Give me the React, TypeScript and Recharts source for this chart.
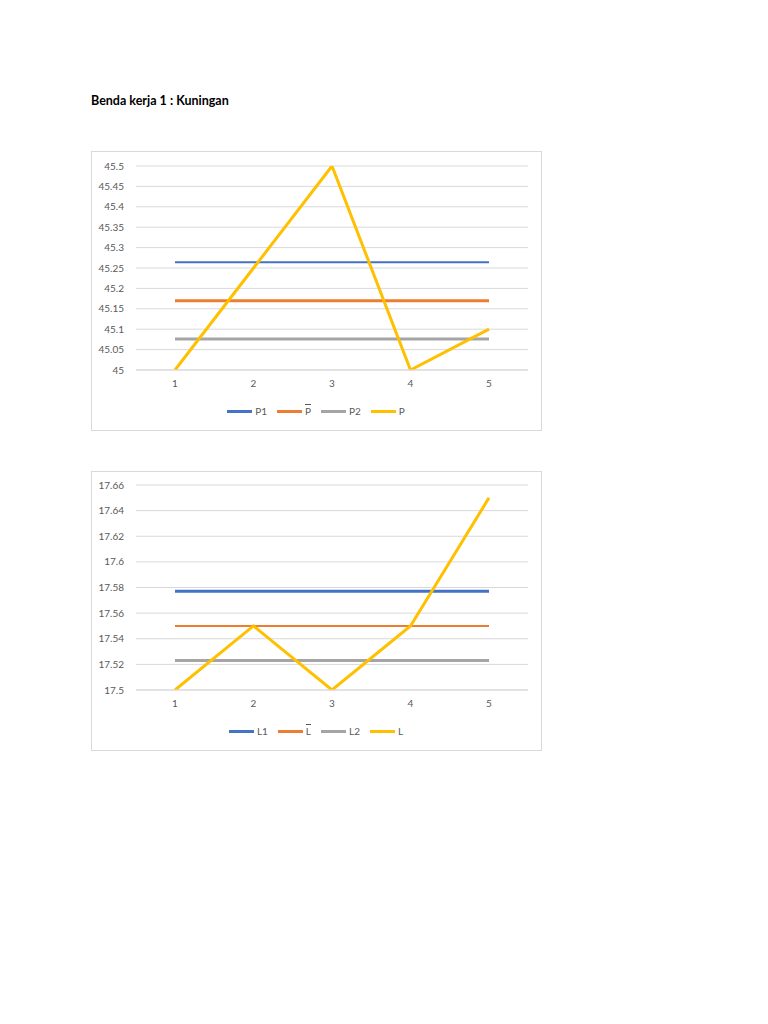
import React from 'react';
import { LineChart, Line, XAxis, YAxis, CartesianGrid, Legend } from 'recharts';

const categories = ['1', '2', '3', '4', '5'];

const pValues = [45, 45.25, 45.5, 45, 45.1];
const p1Values = [45.264, 45.264, 45.264, 45.264, 45.264];
const pBarValues = [45.17, 45.17, 45.17, 45.17, 45.17];
const p2Values = [45.076, 45.076, 45.076, 45.076, 45.076];
const pTicks = [45, 45.05, 45.1, 45.15, 45.2, 45.25, 45.3, 45.35, 45.4, 45.45, 45.5];

const lValues = [17.5, 17.55, 17.5, 17.55, 17.65];
const l1Values = [17.577, 17.577, 17.577, 17.577, 17.577];
const lBarValues = [17.55, 17.55, 17.55, 17.55, 17.55];
const l2Values = [17.523, 17.523, 17.523, 17.523, 17.523];
const lTicks = [17.5, 17.52, 17.54, 17.56, 17.58, 17.6, 17.62, 17.64, 17.66];

const BLUE = '#4472C4';
const ORANGE = '#ED7D31';
const GREY = '#A5A5A5';
const YELLOW = '#FFC000';
const FONT = 'Lato, "Noto Sans", sans-serif';

const pData = categories.map((c, i) => ({
  x: c,
  P1: p1Values[i],
  Pbar: pBarValues[i],
  P2: p2Values[i],
  P: pValues[i],
}));

const lData = categories.map((c, i) => ({
  x: c,
  L1: l1Values[i],
  Lbar: lBarValues[i],
  L2: l2Values[i],
  L: lValues[i],
}));

type Item = { key: string; label: string; bar?: boolean; color: string };

const makeLegend = (items: Item[]) => () => (
  <div
    style={{
      display: 'flex',
      justifyContent: 'center',
      alignItems: 'center',
      height: 16,
      gap: 10,
      paddingLeft: 12,
      fontFamily: FONT,
      fontSize: 10,
      color: '#595959',
    }}
  >
    {items.map((it) => (
      <div key={it.key} style={{ display: 'flex', alignItems: 'center' }}>
        <div style={{ width: 25, height: 3, background: it.color, marginRight: 3 }} />
        <span style={{ textDecoration: it.bar ? 'overline' : 'none' }}>{it.label}</span>
      </div>
    ))}
  </div>
);

const tickStyle = { fontFamily: FONT, fontSize: 10, fill: '#595959' };

type ChartProps = {
  data: any[];
  domain: [number, number];
  ticks: number[];
  series: { key: string; color: string; width: number }[];
  legend: Item[];
  top: number;
  marginTop: number;
};

const Chart = ({ data, domain, ticks, series, legend, top, marginTop }: ChartProps) => (
  <div
    style={{
      position: 'absolute',
      left: 91,
      top,
      width: 451,
      height: 280,
      border: '1px solid #d9d9d9',
      boxSizing: 'border-box',
      background: '#fff',
    }}
  >
    <LineChart width={449} height={278} data={data} margin={{ top: marginTop, right: 13, left: 0, bottom: 11 }}>
      <CartesianGrid vertical={false} stroke="#d9d9d9" strokeWidth={1} />
      <XAxis
        dataKey="x"
        height={33}
        padding={{ left: 39, right: 39 }}
        axisLine={{ stroke: '#d9d9d9' }}
        tickLine={false}
        tickSize={6}
        tickMargin={4}
        tick={tickStyle}
      />
      <YAxis
        type="number"
        domain={domain}
        ticks={ticks}
        width={44}
        axisLine={false}
        tickLine={false}
        tickSize={4}
        tickMargin={8}
        tick={tickStyle}
        allowDataOverflow
        interval={0}
      />
      <Legend verticalAlign="bottom" content={makeLegend(legend)} />
      {series.map((s) => (
        <Line
          key={s.key}
          dataKey={s.key}
          stroke={s.color}
          strokeWidth={s.width}
          dot={false}
          activeDot={false}
          type="linear"
          isAnimationActive={false}
        />
      ))}
    </LineChart>
  </div>
);

export default function App() {
  return (
    <div style={{ position: 'absolute', left: 0, top: 0, width: 768, height: 1024, background: '#fff' }}>
      <div
        style={{
          position: 'absolute',
          left: 91,
          top: 93,
          fontFamily: FONT,
          fontWeight: 700,
          fontSize: 12.5,
          color: '#000',
        }}
      >
        Benda kerja 1 : Kuningan
      </div>
      <Chart
        data={pData}
        domain={[45, 45.5]}
        ticks={pTicks}
        top={151}
        marginTop={14}
        series={[
          { key: 'P1', color: BLUE, width: 2 },
          { key: 'Pbar', color: ORANGE, width: 3 },
          { key: 'P2', color: GREY, width: 3 },
          { key: 'P', color: YELLOW, width: 3 },
        ]}
        legend={[
          { key: 'P1', label: 'P1', color: BLUE },
          { key: 'Pbar', label: 'P', bar: true, color: ORANGE },
          { key: 'P2', label: 'P2', color: GREY },
          { key: 'P', label: 'P', color: YELLOW },
        ]}
      />
      <Chart
        data={lData}
        domain={[17.5, 17.66]}
        ticks={lTicks}
        top={471}
        marginTop={13}
        series={[
          { key: 'L1', color: BLUE, width: 3 },
          { key: 'Lbar', color: ORANGE, width: 2 },
          { key: 'L2', color: GREY, width: 3 },
          { key: 'L', color: YELLOW, width: 3 },
        ]}
        legend={[
          { key: 'L1', label: 'L1', color: BLUE },
          { key: 'Lbar', label: 'L', bar: true, color: ORANGE },
          { key: 'L2', label: 'L2', color: GREY },
          { key: 'L', label: 'L', color: YELLOW },
        ]}
      />
    </div>
  );
}
